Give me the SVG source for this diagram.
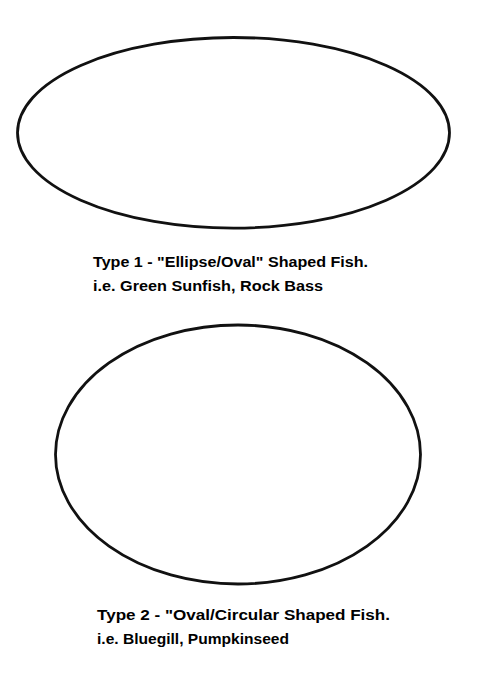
<svg xmlns="http://www.w3.org/2000/svg" width="484" height="690" viewBox="0 0 484 690">
<style>
.shape{fill:none;stroke:#111;stroke-width:2.8}
.lbl{font-family:"Comic Sans MS","Liberation Sans",Arial,sans-serif;font-weight:bold;font-size:14.5px;fill:#000}
</style>
<rect width="484" height="690" fill="#fff"/>
<g id="type1">
<ellipse class="shape" cx="233.5" cy="132.8" rx="216" ry="95.3"/>
<text class="lbl" x="93" y="267" textLength="275" lengthAdjust="spacingAndGlyphs">Type 1 - "Ellipse/Oval" Shaped Fish.</text>
<text class="lbl" x="93" y="291" textLength="230" lengthAdjust="spacingAndGlyphs">i.e. Green Sunfish, Rock Bass</text>
</g>
<g id="type2">
<ellipse class="shape" cx="238" cy="454.5" rx="182.5" ry="129.5"/>
<text class="lbl" x="97" y="620" textLength="293" lengthAdjust="spacingAndGlyphs">Type 2 - "Oval/Circular Shaped Fish.</text>
<text class="lbl" x="97" y="644" textLength="192" lengthAdjust="spacingAndGlyphs">i.e. Bluegill, Pumpkinseed</text>
</g>
<g id="connectors"/>
</svg>
